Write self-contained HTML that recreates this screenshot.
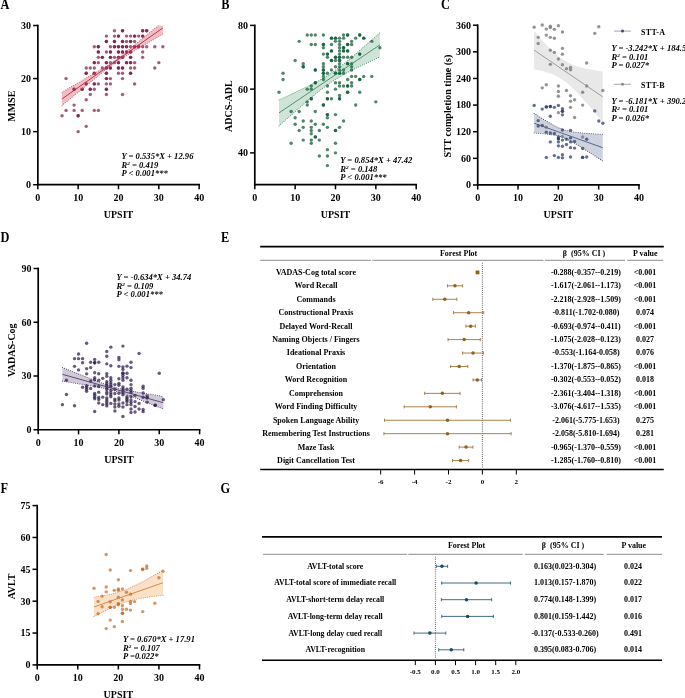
<!DOCTYPE html>
<html><head><meta charset="utf-8"><style>html,body{margin:0;padding:0;background:#fff;width:685px;height:698px;overflow:hidden;}svg{display:block;will-change:transform;}</style></head><body>
<svg width="685" height="698" viewBox="0 0 685 698" font-family='"Liberation Serif", serif'>
<rect width="685" height="698" fill="#fff"/>
<text x="0" y="0" transform="translate(0.4,9.1) scale(0.9,1)" font-size="13.7" font-weight="bold" fill="#000">A</text>
<text x="0" y="0" transform="translate(221.2,9.0) scale(0.9,1)" font-size="13.7" font-weight="bold" fill="#000">B</text>
<text x="0" y="0" transform="translate(441.0,9.0) scale(0.9,1)" font-size="13.7" font-weight="bold" fill="#000">C</text>
<text x="0" y="0" transform="translate(0.5,242.2) scale(0.9,1)" font-size="13.7" font-weight="bold" fill="#000">D</text>
<text x="0" y="0" transform="translate(221.1,242.2) scale(0.9,1)" font-size="13.7" font-weight="bold" fill="#000">E</text>
<text x="0" y="0" transform="translate(0.4,492.6) scale(0.9,1)" font-size="13.7" font-weight="bold" fill="#000">F</text>
<text x="0" y="0" transform="translate(220.5,492.6) scale(0.9,1)" font-size="13.7" font-weight="bold" fill="#000">G</text>
<g fill="#780f3c" fill-opacity="0.68"><circle cx="114.45" cy="30.82" r="1.7"/><circle cx="122.52" cy="30.82" r="1.7"/><circle cx="122.52" cy="30.82" r="1.7"/><circle cx="142.68" cy="30.82" r="1.7"/><circle cx="142.68" cy="30.82" r="1.7"/><circle cx="146.71" cy="30.82" r="1.7"/><circle cx="146.71" cy="30.82" r="1.7"/><circle cx="106.39" cy="36.12" r="1.7"/><circle cx="114.45" cy="36.12" r="1.7"/><circle cx="118.48" cy="36.12" r="1.7"/><circle cx="118.48" cy="36.12" r="1.7"/><circle cx="126.55" cy="36.12" r="1.7"/><circle cx="130.58" cy="36.12" r="1.7"/><circle cx="134.62" cy="36.12" r="1.7"/><circle cx="134.62" cy="36.12" r="1.7"/><circle cx="138.65" cy="36.12" r="1.7"/><circle cx="142.68" cy="36.12" r="1.7"/><circle cx="142.68" cy="36.12" r="1.7"/><circle cx="106.39" cy="41.43" r="1.7"/><circle cx="106.39" cy="41.43" r="1.7"/><circle cx="114.45" cy="41.43" r="1.7"/><circle cx="114.45" cy="41.43" r="1.7"/><circle cx="122.52" cy="41.43" r="1.7"/><circle cx="122.52" cy="41.43" r="1.7"/><circle cx="126.55" cy="41.43" r="1.7"/><circle cx="130.58" cy="41.43" r="1.7"/><circle cx="130.58" cy="41.43" r="1.7"/><circle cx="134.62" cy="41.43" r="1.7"/><circle cx="94.29" cy="46.74" r="1.7"/><circle cx="98.32" cy="46.74" r="1.7"/><circle cx="98.32" cy="46.74" r="1.7"/><circle cx="110.42" cy="46.74" r="1.7"/><circle cx="114.45" cy="46.74" r="1.7"/><circle cx="114.45" cy="46.74" r="1.7"/><circle cx="118.48" cy="46.74" r="1.7"/><circle cx="118.48" cy="46.74" r="1.7"/><circle cx="122.52" cy="46.74" r="1.7"/><circle cx="122.52" cy="46.74" r="1.7"/><circle cx="126.55" cy="46.74" r="1.7"/><circle cx="126.55" cy="46.74" r="1.7"/><circle cx="130.58" cy="46.74" r="1.7"/><circle cx="134.62" cy="46.74" r="1.7"/><circle cx="134.62" cy="46.74" r="1.7"/><circle cx="138.65" cy="46.74" r="1.7"/><circle cx="138.65" cy="46.74" r="1.7"/><circle cx="142.68" cy="46.74" r="1.7"/><circle cx="146.71" cy="46.74" r="1.7"/><circle cx="154.78" cy="46.74" r="1.7"/><circle cx="162.85" cy="46.74" r="1.7"/><circle cx="98.32" cy="52.04" r="1.7"/><circle cx="98.32" cy="52.04" r="1.7"/><circle cx="106.39" cy="52.04" r="1.7"/><circle cx="110.42" cy="52.04" r="1.7"/><circle cx="110.42" cy="52.04" r="1.7"/><circle cx="118.48" cy="52.04" r="1.7"/><circle cx="118.48" cy="52.04" r="1.7"/><circle cx="122.52" cy="52.04" r="1.7"/><circle cx="122.52" cy="52.04" r="1.7"/><circle cx="126.55" cy="52.04" r="1.7"/><circle cx="126.55" cy="52.04" r="1.7"/><circle cx="130.58" cy="52.04" r="1.7"/><circle cx="130.58" cy="52.04" r="1.7"/><circle cx="142.68" cy="52.04" r="1.7"/><circle cx="98.32" cy="57.35" r="1.7"/><circle cx="102.35" cy="57.35" r="1.7"/><circle cx="102.35" cy="57.35" r="1.7"/><circle cx="110.42" cy="57.35" r="1.7"/><circle cx="110.42" cy="57.35" r="1.7"/><circle cx="114.45" cy="57.35" r="1.7"/><circle cx="118.48" cy="57.35" r="1.7"/><circle cx="118.48" cy="57.35" r="1.7"/><circle cx="122.52" cy="57.35" r="1.7"/><circle cx="122.52" cy="57.35" r="1.7"/><circle cx="130.58" cy="57.35" r="1.7"/><circle cx="130.58" cy="57.35" r="1.7"/><circle cx="142.68" cy="57.35" r="1.7"/><circle cx="94.29" cy="62.66" r="1.7"/><circle cx="94.29" cy="62.66" r="1.7"/><circle cx="98.32" cy="62.66" r="1.7"/><circle cx="106.39" cy="62.66" r="1.7"/><circle cx="106.39" cy="62.66" r="1.7"/><circle cx="110.42" cy="62.66" r="1.7"/><circle cx="114.45" cy="62.66" r="1.7"/><circle cx="118.48" cy="62.66" r="1.7"/><circle cx="118.48" cy="62.66" r="1.7"/><circle cx="126.55" cy="62.66" r="1.7"/><circle cx="126.55" cy="62.66" r="1.7"/><circle cx="130.58" cy="62.66" r="1.7"/><circle cx="130.58" cy="62.66" r="1.7"/><circle cx="134.62" cy="62.66" r="1.7"/><circle cx="158.81" cy="62.66" r="1.7"/><circle cx="86.22" cy="67.97" r="1.7"/><circle cx="90.26" cy="67.97" r="1.7"/><circle cx="94.29" cy="67.97" r="1.7"/><circle cx="102.35" cy="67.97" r="1.7"/><circle cx="106.39" cy="67.97" r="1.7"/><circle cx="106.39" cy="67.97" r="1.7"/><circle cx="110.42" cy="67.97" r="1.7"/><circle cx="110.42" cy="67.97" r="1.7"/><circle cx="118.48" cy="67.97" r="1.7"/><circle cx="118.48" cy="67.97" r="1.7"/><circle cx="122.52" cy="67.97" r="1.7"/><circle cx="122.52" cy="67.97" r="1.7"/><circle cx="130.58" cy="67.97" r="1.7"/><circle cx="134.62" cy="67.97" r="1.7"/><circle cx="154.78" cy="67.97" r="1.7"/><circle cx="86.22" cy="73.27" r="1.7"/><circle cx="86.22" cy="73.27" r="1.7"/><circle cx="94.29" cy="73.27" r="1.7"/><circle cx="94.29" cy="73.27" r="1.7"/><circle cx="106.39" cy="73.27" r="1.7"/><circle cx="106.39" cy="73.27" r="1.7"/><circle cx="118.48" cy="73.27" r="1.7"/><circle cx="122.52" cy="73.27" r="1.7"/><circle cx="130.58" cy="73.27" r="1.7"/><circle cx="130.58" cy="73.27" r="1.7"/><circle cx="66.06" cy="78.58" r="1.7"/><circle cx="106.39" cy="78.58" r="1.7"/><circle cx="106.39" cy="78.58" r="1.7"/><circle cx="110.42" cy="78.58" r="1.7"/><circle cx="122.52" cy="78.58" r="1.7"/><circle cx="86.22" cy="83.89" r="1.7"/><circle cx="86.22" cy="83.89" r="1.7"/><circle cx="94.29" cy="83.89" r="1.7"/><circle cx="94.29" cy="83.89" r="1.7"/><circle cx="98.32" cy="83.89" r="1.7"/><circle cx="106.39" cy="83.89" r="1.7"/><circle cx="110.42" cy="83.89" r="1.7"/><circle cx="134.62" cy="83.89" r="1.7"/><circle cx="74.12" cy="89.19" r="1.7"/><circle cx="74.12" cy="89.19" r="1.7"/><circle cx="82.19" cy="89.19" r="1.7"/><circle cx="82.19" cy="89.19" r="1.7"/><circle cx="90.26" cy="89.19" r="1.7"/><circle cx="90.26" cy="89.19" r="1.7"/><circle cx="94.29" cy="89.19" r="1.7"/><circle cx="106.39" cy="89.19" r="1.7"/><circle cx="106.39" cy="89.19" r="1.7"/><circle cx="90.26" cy="94.50" r="1.7"/><circle cx="106.39" cy="94.50" r="1.7"/><circle cx="122.52" cy="94.50" r="1.7"/><circle cx="86.22" cy="99.81" r="1.7"/><circle cx="74.12" cy="105.11" r="1.7"/><circle cx="66.06" cy="110.42" r="1.7"/><circle cx="74.12" cy="110.42" r="1.7"/><circle cx="82.19" cy="110.42" r="1.7"/><circle cx="94.29" cy="110.42" r="1.7"/><circle cx="98.32" cy="110.42" r="1.7"/><circle cx="62.03" cy="115.73" r="1.7"/><circle cx="78.16" cy="115.73" r="1.7"/><circle cx="78.16" cy="115.73" r="1.7"/><circle cx="86.22" cy="126.34" r="1.7"/><circle cx="78.16" cy="131.65" r="1.7"/></g>
<defs><clipPath id="clipA"><rect x="30" y="25.51" width="200" height="170"/></clipPath></defs>
<g clip-path="url(#clipA)">
<polygon points="62.03,92.22 64.55,90.75 67.07,89.29 69.59,87.82 72.11,86.35 74.63,84.88 77.15,83.41 79.67,81.94 82.19,80.46 84.71,78.99 87.23,77.51 89.75,76.03 92.27,74.54 94.79,73.04 97.31,71.54 99.83,70.03 102.35,68.50 104.87,66.95 107.39,65.37 109.92,63.75 112.44,62.06 114.96,60.31 117.48,58.49 120.00,56.59 122.52,54.65 125.04,52.67 127.56,50.66 130.08,48.63 132.60,46.59 135.12,44.54 137.64,42.48 140.16,40.42 142.68,38.35 145.20,36.28 147.72,34.21 150.24,32.13 152.76,30.05 155.28,27.97 157.80,25.89 160.32,23.81 162.85,21.73 162.85,34.12 160.32,35.59 157.80,37.05 155.28,38.52 152.76,39.99 150.24,41.46 147.72,42.94 145.20,44.41 142.68,45.89 140.16,47.37 137.64,48.86 135.12,50.35 132.60,51.85 130.08,53.36 127.56,54.88 125.04,56.42 122.52,57.98 120.00,59.59 117.48,61.25 114.96,62.97 112.44,64.77 109.92,66.63 107.39,68.56 104.87,70.53 102.35,72.53 99.83,74.55 97.31,76.58 94.79,78.63 92.27,80.69 89.75,82.75 87.23,84.81 84.71,86.88 82.19,88.96 79.67,91.03 77.15,93.11 74.63,95.19 72.11,97.27 69.59,99.35 67.07,101.43 64.55,103.51 62.03,105.59" fill="#e54054" fill-opacity="0.35" stroke="none"/>
<polyline points="62.03,92.22 64.55,90.75 67.07,89.29 69.59,87.82 72.11,86.35 74.63,84.88 77.15,83.41 79.67,81.94 82.19,80.46 84.71,78.99 87.23,77.51 89.75,76.03 92.27,74.54 94.79,73.04 97.31,71.54 99.83,70.03 102.35,68.50 104.87,66.95 107.39,65.37 109.92,63.75 112.44,62.06 114.96,60.31 117.48,58.49 120.00,56.59 122.52,54.65 125.04,52.67 127.56,50.66 130.08,48.63 132.60,46.59 135.12,44.54 137.64,42.48 140.16,40.42 142.68,38.35 145.20,36.28 147.72,34.21 150.24,32.13 152.76,30.05 155.28,27.97 157.80,25.89 160.32,23.81 162.85,21.73" fill="none" stroke="#c85a6c" stroke-width="1.05" stroke-dasharray="0.01 2.2" stroke-linecap="round"/>
<polyline points="62.03,105.59 64.55,103.51 67.07,101.43 69.59,99.35 72.11,97.27 74.63,95.19 77.15,93.11 79.67,91.03 82.19,88.96 84.71,86.88 87.23,84.81 89.75,82.75 92.27,80.69 94.79,78.63 97.31,76.58 99.83,74.55 102.35,72.53 104.87,70.53 107.39,68.56 109.92,66.63 112.44,64.77 114.96,62.97 117.48,61.25 120.00,59.59 122.52,57.98 125.04,56.42 127.56,54.88 130.08,53.36 132.60,51.85 135.12,50.35 137.64,48.86 140.16,47.37 142.68,45.89 145.20,44.41 147.72,42.94 150.24,41.46 152.76,39.99 155.28,38.52 157.80,37.05 160.32,35.59 162.85,34.12" fill="none" stroke="#c85a6c" stroke-width="1.05" stroke-dasharray="0.01 2.2" stroke-linecap="round"/>
</g>
<line x1="62.03" y1="98.91" x2="162.85" y2="27.92" stroke="#9a3350" stroke-width="0.9"/>
<line x1="37.83" y1="24.66" x2="37.83" y2="185.57" stroke="#000" stroke-width="1.7"/>
<line x1="33.13" y1="184.72" x2="37.83" y2="184.72" stroke="#000" stroke-width="1.5"/>
<text x="31.03" y="188.12" font-size="10" text-anchor="end" font-weight="bold" fill="#000">0</text>
<line x1="33.13" y1="131.65" x2="37.83" y2="131.65" stroke="#000" stroke-width="1.5"/>
<text x="31.03" y="135.05" font-size="10" text-anchor="end" font-weight="bold" fill="#000">10</text>
<line x1="33.13" y1="78.58" x2="37.83" y2="78.58" stroke="#000" stroke-width="1.5"/>
<text x="31.03" y="81.98" font-size="10" text-anchor="end" font-weight="bold" fill="#000">20</text>
<line x1="33.13" y1="25.51" x2="37.83" y2="25.51" stroke="#000" stroke-width="1.5"/>
<text x="31.03" y="28.91" font-size="10" text-anchor="end" font-weight="bold" fill="#000">30</text>
<line x1="36.98" y1="184.72" x2="199.99" y2="184.72" stroke="#000" stroke-width="1.7"/>
<line x1="37.83" y1="184.72" x2="37.83" y2="189.32" stroke="#000" stroke-width="1.5"/>
<text x="37.83" y="200.82" font-size="10" text-anchor="middle" font-weight="bold" fill="#000">0</text>
<line x1="78.16" y1="184.72" x2="78.16" y2="189.32" stroke="#000" stroke-width="1.5"/>
<text x="78.16" y="200.82" font-size="10" text-anchor="middle" font-weight="bold" fill="#000">10</text>
<line x1="118.48" y1="184.72" x2="118.48" y2="189.32" stroke="#000" stroke-width="1.5"/>
<text x="118.48" y="200.82" font-size="10" text-anchor="middle" font-weight="bold" fill="#000">20</text>
<line x1="158.81" y1="184.72" x2="158.81" y2="189.32" stroke="#000" stroke-width="1.5"/>
<text x="158.81" y="200.82" font-size="10" text-anchor="middle" font-weight="bold" fill="#000">30</text>
<line x1="199.14" y1="184.72" x2="199.14" y2="189.32" stroke="#000" stroke-width="1.5"/>
<text x="199.14" y="200.82" font-size="10" text-anchor="middle" font-weight="bold" fill="#000">40</text>
<text x="118.48" y="217.72" font-size="10" text-anchor="middle" font-weight="bold" fill="#000">UPSIT</text>
<text transform="translate(14.90,106.21) rotate(-90)" x="0" y="0" font-size="10" text-anchor="middle" font-weight="bold" fill="#000">MMSE</text>
<text x="0" y="0" transform="translate(121.50,158.90) scale(1.075,0.94)" font-size="8" font-weight="bold" font-style="italic" fill="#000">Y = 0.535*X + 12.96</text>
<text x="0" y="0" transform="translate(121.50,167.50) scale(1.075,0.94)" font-size="8" font-weight="bold" font-style="italic" fill="#000">R<tspan font-size="4.96" dy="-3">2</tspan><tspan dy="3"> = 0.419</tspan></text>
<text x="0" y="0" transform="translate(121.50,176.10) scale(1.075,0.94)" font-size="8" font-weight="bold" font-style="italic" fill="#000">P &lt; 0.001***</text>
<polygon points="279.01,99.88 281.53,98.73 284.05,97.57 286.58,96.41 289.10,95.25 291.62,94.08 294.14,92.91 296.66,91.73 299.19,90.54 301.71,89.34 304.23,88.12 306.75,86.89 309.27,85.65 311.79,84.38 314.32,83.09 316.84,81.76 319.36,80.40 321.88,78.98 324.40,77.52 326.93,75.99 329.45,74.39 331.97,72.71 334.49,70.95 337.01,69.12 339.53,67.23 342.06,65.27 344.58,63.26 347.10,61.21 349.62,59.12 352.14,57.00 354.67,54.86 357.19,52.69 359.71,50.51 362.23,48.32 364.75,46.11 367.28,43.90 369.80,41.68 372.32,39.45 374.84,37.21 377.36,34.97 379.88,32.73 379.88,56.99 377.36,58.14 374.84,59.30 372.32,60.47 369.80,61.64 367.28,62.82 364.75,64.01 362.23,65.20 359.71,66.41 357.19,67.63 354.67,68.87 352.14,70.13 349.62,71.41 347.10,72.72 344.58,74.07 342.06,75.47 339.53,76.91 337.01,78.41 334.49,79.99 331.97,81.63 329.45,83.36 326.93,85.16 324.40,87.03 321.88,88.96 319.36,90.95 316.84,92.99 314.32,95.06 311.79,97.17 309.27,99.31 306.75,101.46 304.23,103.63 301.71,105.82 299.19,108.02 296.66,110.23 294.14,112.45 291.62,114.68 289.10,116.91 286.58,119.15 284.05,121.40 281.53,123.64 279.01,125.89" fill="#cfe3d6" fill-opacity="1.0" stroke="none"/>
<polyline points="279.01,99.88 281.53,98.73 284.05,97.57 286.58,96.41 289.10,95.25 291.62,94.08 294.14,92.91 296.66,91.73 299.19,90.54 301.71,89.34 304.23,88.12 306.75,86.89 309.27,85.65 311.79,84.38 314.32,83.09 316.84,81.76 319.36,80.40 321.88,78.98 324.40,77.52 326.93,75.99 329.45,74.39 331.97,72.71 334.49,70.95 337.01,69.12 339.53,67.23 342.06,65.27 344.58,63.26 347.10,61.21 349.62,59.12 352.14,57.00 354.67,54.86 357.19,52.69 359.71,50.51 362.23,48.32 364.75,46.11 367.28,43.90 369.80,41.68 372.32,39.45 374.84,37.21 377.36,34.97 379.88,32.73" fill="none" stroke="#4f9070" stroke-width="1.05" stroke-dasharray="0.01 2.2" stroke-linecap="round"/>
<polyline points="279.01,125.89 281.53,123.64 284.05,121.40 286.58,119.15 289.10,116.91 291.62,114.68 294.14,112.45 296.66,110.23 299.19,108.02 301.71,105.82 304.23,103.63 306.75,101.46 309.27,99.31 311.79,97.17 314.32,95.06 316.84,92.99 319.36,90.95 321.88,88.96 324.40,87.03 326.93,85.16 329.45,83.36 331.97,81.63 334.49,79.99 337.01,78.41 339.53,76.91 342.06,75.47 344.58,74.07 347.10,72.72 349.62,71.41 352.14,70.13 354.67,68.87 357.19,67.63 359.71,66.41 362.23,65.20 364.75,64.01 367.28,62.82 369.80,61.64 372.32,60.47 374.84,59.30 377.36,58.14 379.88,56.99" fill="none" stroke="#4f9070" stroke-width="1.05" stroke-dasharray="0.01 2.2" stroke-linecap="round"/>
<g fill="#0a5a32" fill-opacity="0.72"><circle cx="279.01" cy="92.31" r="1.7"/><circle cx="283.05" cy="73.20" r="1.7"/><circle cx="283.05" cy="79.57" r="1.7"/><circle cx="291.12" cy="111.43" r="1.7"/><circle cx="291.12" cy="143.30" r="1.7"/><circle cx="295.15" cy="60.45" r="1.7"/><circle cx="295.15" cy="117.81" r="1.7"/><circle cx="295.15" cy="124.18" r="1.7"/><circle cx="299.19" cy="41.33" r="1.7"/><circle cx="299.19" cy="111.43" r="1.7"/><circle cx="299.19" cy="130.55" r="1.7"/><circle cx="303.22" cy="63.64" r="1.7"/><circle cx="303.22" cy="66.82" r="1.7"/><circle cx="303.22" cy="66.82" r="1.7"/><circle cx="303.22" cy="120.99" r="1.7"/><circle cx="303.22" cy="127.36" r="1.7"/><circle cx="303.22" cy="140.11" r="1.7"/><circle cx="307.25" cy="34.96" r="1.7"/><circle cx="307.25" cy="89.13" r="1.7"/><circle cx="307.25" cy="101.87" r="1.7"/><circle cx="307.25" cy="105.06" r="1.7"/><circle cx="311.29" cy="34.96" r="1.7"/><circle cx="311.29" cy="44.52" r="1.7"/><circle cx="311.29" cy="85.94" r="1.7"/><circle cx="311.29" cy="89.13" r="1.7"/><circle cx="311.29" cy="98.69" r="1.7"/><circle cx="311.29" cy="98.69" r="1.7"/><circle cx="311.29" cy="120.99" r="1.7"/><circle cx="311.29" cy="127.36" r="1.7"/><circle cx="311.29" cy="130.55" r="1.7"/><circle cx="311.29" cy="133.74" r="1.7"/><circle cx="311.29" cy="140.11" r="1.7"/><circle cx="311.29" cy="143.30" r="1.7"/><circle cx="315.32" cy="34.96" r="1.7"/><circle cx="315.32" cy="44.52" r="1.7"/><circle cx="315.32" cy="70.01" r="1.7"/><circle cx="315.32" cy="70.01" r="1.7"/><circle cx="315.32" cy="82.76" r="1.7"/><circle cx="315.32" cy="82.76" r="1.7"/><circle cx="315.32" cy="111.43" r="1.7"/><circle cx="315.32" cy="124.18" r="1.7"/><circle cx="315.32" cy="136.92" r="1.7"/><circle cx="315.32" cy="136.92" r="1.7"/><circle cx="319.36" cy="130.55" r="1.7"/><circle cx="319.36" cy="140.11" r="1.7"/><circle cx="319.36" cy="156.04" r="1.7"/><circle cx="323.39" cy="34.96" r="1.7"/><circle cx="323.39" cy="44.52" r="1.7"/><circle cx="323.39" cy="44.52" r="1.7"/><circle cx="323.39" cy="47.70" r="1.7"/><circle cx="323.39" cy="54.08" r="1.7"/><circle cx="323.39" cy="63.64" r="1.7"/><circle cx="323.39" cy="66.82" r="1.7"/><circle cx="323.39" cy="70.01" r="1.7"/><circle cx="323.39" cy="70.01" r="1.7"/><circle cx="323.39" cy="73.20" r="1.7"/><circle cx="323.39" cy="73.20" r="1.7"/><circle cx="323.39" cy="76.38" r="1.7"/><circle cx="323.39" cy="79.57" r="1.7"/><circle cx="323.39" cy="105.06" r="1.7"/><circle cx="323.39" cy="105.06" r="1.7"/><circle cx="323.39" cy="124.18" r="1.7"/><circle cx="327.43" cy="54.08" r="1.7"/><circle cx="327.43" cy="54.08" r="1.7"/><circle cx="327.43" cy="57.26" r="1.7"/><circle cx="327.43" cy="73.20" r="1.7"/><circle cx="327.43" cy="85.94" r="1.7"/><circle cx="327.43" cy="92.31" r="1.7"/><circle cx="327.43" cy="98.69" r="1.7"/><circle cx="327.43" cy="98.69" r="1.7"/><circle cx="327.43" cy="114.62" r="1.7"/><circle cx="327.43" cy="114.62" r="1.7"/><circle cx="327.43" cy="117.81" r="1.7"/><circle cx="327.43" cy="127.36" r="1.7"/><circle cx="327.43" cy="149.67" r="1.7"/><circle cx="327.43" cy="156.04" r="1.7"/><circle cx="327.43" cy="165.60" r="1.7"/><circle cx="331.47" cy="38.15" r="1.7"/><circle cx="331.47" cy="38.15" r="1.7"/><circle cx="331.47" cy="44.52" r="1.7"/><circle cx="331.47" cy="50.89" r="1.7"/><circle cx="331.47" cy="50.89" r="1.7"/><circle cx="331.47" cy="60.45" r="1.7"/><circle cx="331.47" cy="60.45" r="1.7"/><circle cx="331.47" cy="70.01" r="1.7"/><circle cx="331.47" cy="98.69" r="1.7"/><circle cx="335.50" cy="38.15" r="1.7"/><circle cx="335.50" cy="38.15" r="1.7"/><circle cx="335.50" cy="41.33" r="1.7"/><circle cx="335.50" cy="57.26" r="1.7"/><circle cx="335.50" cy="57.26" r="1.7"/><circle cx="335.50" cy="60.45" r="1.7"/><circle cx="335.50" cy="66.82" r="1.7"/><circle cx="335.50" cy="73.20" r="1.7"/><circle cx="335.50" cy="73.20" r="1.7"/><circle cx="335.50" cy="82.76" r="1.7"/><circle cx="335.50" cy="89.13" r="1.7"/><circle cx="335.50" cy="114.62" r="1.7"/><circle cx="335.50" cy="130.55" r="1.7"/><circle cx="335.50" cy="130.55" r="1.7"/><circle cx="335.50" cy="143.30" r="1.7"/><circle cx="335.50" cy="152.86" r="1.7"/><circle cx="339.53" cy="38.15" r="1.7"/><circle cx="339.53" cy="41.33" r="1.7"/><circle cx="339.53" cy="44.52" r="1.7"/><circle cx="339.53" cy="47.70" r="1.7"/><circle cx="339.53" cy="50.89" r="1.7"/><circle cx="339.53" cy="54.08" r="1.7"/><circle cx="339.53" cy="57.26" r="1.7"/><circle cx="339.53" cy="57.26" r="1.7"/><circle cx="339.53" cy="60.45" r="1.7"/><circle cx="339.53" cy="60.45" r="1.7"/><circle cx="339.53" cy="63.64" r="1.7"/><circle cx="339.53" cy="66.82" r="1.7"/><circle cx="339.53" cy="70.01" r="1.7"/><circle cx="339.53" cy="73.20" r="1.7"/><circle cx="339.53" cy="73.20" r="1.7"/><circle cx="339.53" cy="82.76" r="1.7"/><circle cx="339.53" cy="85.94" r="1.7"/><circle cx="339.53" cy="95.50" r="1.7"/><circle cx="339.53" cy="98.69" r="1.7"/><circle cx="339.53" cy="98.69" r="1.7"/><circle cx="339.53" cy="127.36" r="1.7"/><circle cx="343.57" cy="34.96" r="1.7"/><circle cx="343.57" cy="38.15" r="1.7"/><circle cx="343.57" cy="47.70" r="1.7"/><circle cx="343.57" cy="47.70" r="1.7"/><circle cx="343.57" cy="50.89" r="1.7"/><circle cx="343.57" cy="50.89" r="1.7"/><circle cx="343.57" cy="57.26" r="1.7"/><circle cx="343.57" cy="70.01" r="1.7"/><circle cx="343.57" cy="73.20" r="1.7"/><circle cx="343.57" cy="85.94" r="1.7"/><circle cx="343.57" cy="120.99" r="1.7"/><circle cx="347.61" cy="34.96" r="1.7"/><circle cx="347.61" cy="34.96" r="1.7"/><circle cx="347.61" cy="44.52" r="1.7"/><circle cx="347.61" cy="44.52" r="1.7"/><circle cx="347.61" cy="50.89" r="1.7"/><circle cx="347.61" cy="50.89" r="1.7"/><circle cx="347.61" cy="57.26" r="1.7"/><circle cx="347.61" cy="63.64" r="1.7"/><circle cx="347.61" cy="63.64" r="1.7"/><circle cx="347.61" cy="79.57" r="1.7"/><circle cx="347.61" cy="85.94" r="1.7"/><circle cx="347.61" cy="85.94" r="1.7"/><circle cx="347.61" cy="92.31" r="1.7"/><circle cx="347.61" cy="92.31" r="1.7"/><circle cx="351.64" cy="41.33" r="1.7"/><circle cx="351.64" cy="44.52" r="1.7"/><circle cx="351.64" cy="57.26" r="1.7"/><circle cx="351.64" cy="63.64" r="1.7"/><circle cx="351.64" cy="66.82" r="1.7"/><circle cx="351.64" cy="70.01" r="1.7"/><circle cx="351.64" cy="76.38" r="1.7"/><circle cx="351.64" cy="82.76" r="1.7"/><circle cx="351.64" cy="85.94" r="1.7"/><circle cx="355.68" cy="38.15" r="1.7"/><circle cx="355.68" cy="76.38" r="1.7"/><circle cx="355.68" cy="105.06" r="1.7"/><circle cx="359.71" cy="34.96" r="1.7"/><circle cx="359.71" cy="34.96" r="1.7"/><circle cx="359.71" cy="54.08" r="1.7"/><circle cx="359.71" cy="54.08" r="1.7"/><circle cx="359.71" cy="79.57" r="1.7"/><circle cx="359.71" cy="79.57" r="1.7"/><circle cx="359.71" cy="92.31" r="1.7"/><circle cx="363.75" cy="38.15" r="1.7"/><circle cx="363.75" cy="38.15" r="1.7"/><circle cx="363.75" cy="76.38" r="1.7"/><circle cx="371.81" cy="41.33" r="1.7"/><circle cx="371.81" cy="76.38" r="1.7"/><circle cx="375.85" cy="101.87" r="1.7"/><circle cx="379.88" cy="47.70" r="1.7"/></g>
<line x1="279.01" y1="112.89" x2="379.88" y2="44.86" stroke="#3f8a63" stroke-width="0.9"/>
<line x1="254.80" y1="24.55" x2="254.80" y2="185.57" stroke="#000" stroke-width="1.7"/>
<line x1="250.10" y1="152.86" x2="254.80" y2="152.86" stroke="#000" stroke-width="1.5"/>
<text x="248.00" y="156.26" font-size="10" text-anchor="end" font-weight="bold" fill="#000">40</text>
<line x1="250.10" y1="89.13" x2="254.80" y2="89.13" stroke="#000" stroke-width="1.5"/>
<text x="248.00" y="92.53" font-size="10" text-anchor="end" font-weight="bold" fill="#000">60</text>
<line x1="250.10" y1="25.40" x2="254.80" y2="25.40" stroke="#000" stroke-width="1.5"/>
<text x="248.00" y="28.80" font-size="10" text-anchor="end" font-weight="bold" fill="#000">80</text>
<line x1="253.95" y1="184.72" x2="417.05" y2="184.72" stroke="#000" stroke-width="1.7"/>
<line x1="254.80" y1="184.72" x2="254.80" y2="189.32" stroke="#000" stroke-width="1.5"/>
<text x="254.80" y="200.82" font-size="10" text-anchor="middle" font-weight="bold" fill="#000">0</text>
<line x1="295.15" y1="184.72" x2="295.15" y2="189.32" stroke="#000" stroke-width="1.5"/>
<text x="295.15" y="200.82" font-size="10" text-anchor="middle" font-weight="bold" fill="#000">10</text>
<line x1="335.50" y1="184.72" x2="335.50" y2="189.32" stroke="#000" stroke-width="1.5"/>
<text x="335.50" y="200.82" font-size="10" text-anchor="middle" font-weight="bold" fill="#000">20</text>
<line x1="375.85" y1="184.72" x2="375.85" y2="189.32" stroke="#000" stroke-width="1.5"/>
<text x="375.85" y="200.82" font-size="10" text-anchor="middle" font-weight="bold" fill="#000">30</text>
<line x1="416.20" y1="184.72" x2="416.20" y2="189.32" stroke="#000" stroke-width="1.5"/>
<text x="416.20" y="200.82" font-size="10" text-anchor="middle" font-weight="bold" fill="#000">40</text>
<text x="335.50" y="217.72" font-size="10" text-anchor="middle" font-weight="bold" fill="#000">UPSIT</text>
<text transform="translate(232.10,106.16) rotate(-90)" x="0" y="0" font-size="10" text-anchor="middle" font-weight="bold" fill="#000">ADCS-ADL</text>
<text x="0" y="0" transform="translate(340.30,162.90) scale(1.075,0.94)" font-size="8" font-weight="bold" font-style="italic" fill="#000">Y = 0.854*X + 47.42</text>
<text x="0" y="0" transform="translate(340.30,171.50) scale(1.075,0.94)" font-size="8" font-weight="bold" font-style="italic" fill="#000">R<tspan font-size="4.96" dy="-3">2</tspan><tspan dy="3"> = 0.148</tspan></text>
<text x="0" y="0" transform="translate(340.30,180.10) scale(1.075,0.94)" font-size="8" font-weight="bold" font-style="italic" fill="#000">P &lt; 0.001***</text>
<polygon points="534.15,31.12 535.87,33.10 537.58,35.07 539.30,37.02 541.01,38.95 542.72,40.86 544.44,42.73 546.15,44.57 547.87,46.38 549.58,48.14 551.29,49.85 553.01,51.50 554.72,53.09 556.43,54.60 558.15,56.03 559.86,57.38 561.58,58.64 563.29,59.80 565.00,60.87 566.72,61.85 568.43,62.74 570.15,63.56 571.86,64.30 573.57,64.97 575.29,65.59 577.00,66.16 578.71,66.69 580.43,67.17 582.14,67.63 583.86,68.05 585.57,68.46 587.28,68.84 589.00,69.20 590.71,69.54 592.42,69.87 594.14,70.19 595.85,70.50 597.57,70.80 599.28,71.09 600.99,71.37 602.71,71.64 602.71,122.03 600.99,119.97 599.28,117.92 597.57,115.88 595.85,113.84 594.14,111.82 592.42,109.81 590.71,107.81 589.00,105.82 587.28,103.85 585.57,101.90 583.86,99.97 582.14,98.06 580.43,96.19 578.71,94.34 577.00,92.53 575.29,90.77 573.57,89.06 571.86,87.40 570.15,85.81 568.43,84.29 566.72,82.86 565.00,81.50 563.29,80.24 561.58,79.07 559.86,78.00 558.15,77.01 556.43,76.12 554.72,75.30 553.01,74.55 551.29,73.87 549.58,73.25 547.87,72.68 546.15,72.15 544.44,71.66 542.72,71.21 541.01,70.78 539.30,70.37 537.58,69.99 535.87,69.63 534.15,69.28" fill="#e8e8e8" fill-opacity="1.0" stroke="none"/>
<polygon points="534.15,113.46 535.87,114.56 537.58,115.66 539.30,116.75 541.01,117.83 542.72,118.91 544.44,119.97 546.15,121.01 547.87,122.04 549.58,123.05 551.29,124.03 553.01,124.99 554.72,125.90 556.43,126.77 558.15,127.58 559.86,128.33 561.58,129.01 563.29,129.62 565.00,130.16 566.72,130.63 568.43,131.03 570.15,131.39 571.86,131.69 573.57,131.96 575.29,132.20 577.00,132.41 578.71,132.61 580.43,132.78 582.14,132.94 583.86,133.09 585.57,133.23 587.28,133.37 589.00,133.49 590.71,133.61 592.42,133.73 594.14,133.84 595.85,133.94 597.57,134.05 599.28,134.15 600.99,134.25 602.71,134.34 602.71,161.04 600.99,159.91 599.28,158.79 597.57,157.67 595.85,156.55 594.14,155.43 592.42,154.32 590.71,153.21 589.00,152.11 587.28,151.01 585.57,149.92 583.86,148.84 582.14,147.76 580.43,146.70 578.71,145.65 577.00,144.62 575.29,143.61 573.57,142.63 571.86,141.68 570.15,140.76 568.43,139.89 566.72,139.07 565.00,138.32 563.29,137.63 561.58,137.02 559.86,136.48 558.15,136.00 556.43,135.59 554.72,135.24 553.01,134.93 551.29,134.66 549.58,134.42 547.87,134.20 546.15,134.01 544.44,133.83 542.72,133.67 541.01,133.52 539.30,133.38 537.58,133.25 535.87,133.12 534.15,133.00" fill="#cdd2de" fill-opacity="1.0" stroke="none"/>
<polyline points="534.15,113.46 535.87,114.56 537.58,115.66 539.30,116.75 541.01,117.83 542.72,118.91 544.44,119.97 546.15,121.01 547.87,122.04 549.58,123.05 551.29,124.03 553.01,124.99 554.72,125.90 556.43,126.77 558.15,127.58 559.86,128.33 561.58,129.01 563.29,129.62 565.00,130.16 566.72,130.63 568.43,131.03 570.15,131.39 571.86,131.69 573.57,131.96 575.29,132.20 577.00,132.41 578.71,132.61 580.43,132.78 582.14,132.94 583.86,133.09 585.57,133.23 587.28,133.37 589.00,133.49 590.71,133.61 592.42,133.73 594.14,133.84 595.85,133.94 597.57,134.05 599.28,134.15 600.99,134.25 602.71,134.34" fill="none" stroke="#3a4566" stroke-width="1.05" stroke-dasharray="0.01 2.2" stroke-linecap="round"/>
<polyline points="534.15,133.00 535.87,133.12 537.58,133.25 539.30,133.38 541.01,133.52 542.72,133.67 544.44,133.83 546.15,134.01 547.87,134.20 549.58,134.42 551.29,134.66 553.01,134.93 554.72,135.24 556.43,135.59 558.15,136.00 559.86,136.48 561.58,137.02 563.29,137.63 565.00,138.32 566.72,139.07 568.43,139.89 570.15,140.76 571.86,141.68 573.57,142.63 575.29,143.61 577.00,144.62 578.71,145.65 580.43,146.70 582.14,147.76 583.86,148.84 585.57,149.92 587.28,151.01 589.00,152.11 590.71,153.21 592.42,154.32 594.14,155.43 595.85,156.55 597.57,157.67 599.28,158.79 600.99,159.91 602.71,161.04" fill="none" stroke="#3a4566" stroke-width="1.05" stroke-dasharray="0.01 2.2" stroke-linecap="round"/>
<g fill="#7a7a7a" fill-opacity="0.8"><circle cx="534.16" cy="27.15" r="1.7"/><circle cx="542.24" cy="24.93" r="1.7"/><circle cx="546.28" cy="29.10" r="1.7"/><circle cx="550.32" cy="26.26" r="1.7"/><circle cx="550.32" cy="27.59" r="1.7"/><circle cx="554.36" cy="29.36" r="1.7"/><circle cx="558.40" cy="25.82" r="1.7"/><circle cx="562.44" cy="32.02" r="1.7"/><circle cx="598.80" cy="26.71" r="1.7"/><circle cx="594.76" cy="33.35" r="1.7"/><circle cx="538.20" cy="37.34" r="1.7"/><circle cx="546.28" cy="35.12" r="1.7"/><circle cx="550.32" cy="37.34" r="1.7"/><circle cx="554.36" cy="38.22" r="1.7"/><circle cx="538.20" cy="43.54" r="1.7"/><circle cx="562.44" cy="48.41" r="1.7"/><circle cx="562.44" cy="54.17" r="1.7"/><circle cx="550.32" cy="50.19" r="1.7"/><circle cx="554.36" cy="52.40" r="1.7"/><circle cx="558.40" cy="59.05" r="1.7"/><circle cx="550.32" cy="64.36" r="1.7"/><circle cx="562.44" cy="64.80" r="1.7"/><circle cx="566.48" cy="68.79" r="1.7"/><circle cx="570.52" cy="67.46" r="1.7"/><circle cx="570.52" cy="69.68" r="1.7"/><circle cx="586.68" cy="63.03" r="1.7"/><circle cx="586.68" cy="86.07" r="1.7"/><circle cx="602.84" cy="90.50" r="1.7"/><circle cx="582.64" cy="92.27" r="1.7"/><circle cx="546.28" cy="84.74" r="1.7"/><circle cx="542.24" cy="87.84" r="1.7"/><circle cx="558.40" cy="86.07" r="1.7"/><circle cx="558.40" cy="91.38" r="1.7"/><circle cx="558.40" cy="96.26" r="1.7"/><circle cx="566.48" cy="90.50" r="1.7"/><circle cx="570.52" cy="95.81" r="1.7"/><circle cx="574.56" cy="99.80" r="1.7"/><circle cx="570.52" cy="101.13" r="1.7"/><circle cx="582.64" cy="105.12" r="1.7"/><circle cx="570.52" cy="107.33" r="1.7"/><circle cx="558.40" cy="112.65" r="1.7"/><circle cx="574.56" cy="117.52" r="1.7"/><circle cx="546.28" cy="127.27" r="1.7"/><circle cx="562.44" cy="136.57" r="1.7"/><circle cx="582.64" cy="137.01" r="1.7"/></g>
<g fill="#2a3a66" fill-opacity="0.72"><circle cx="534.16" cy="105.56" r="1.7"/><circle cx="542.24" cy="109.10" r="1.7"/><circle cx="546.28" cy="106.89" r="1.7"/><circle cx="546.28" cy="106.89" r="1.7"/><circle cx="550.32" cy="106.45" r="1.7"/><circle cx="550.32" cy="106.45" r="1.7"/><circle cx="554.36" cy="107.33" r="1.7"/><circle cx="558.40" cy="105.56" r="1.7"/><circle cx="562.44" cy="108.66" r="1.7"/><circle cx="562.44" cy="111.32" r="1.7"/><circle cx="562.44" cy="111.32" r="1.7"/><circle cx="562.44" cy="114.86" r="1.7"/><circle cx="550.32" cy="116.19" r="1.7"/><circle cx="538.20" cy="120.62" r="1.7"/><circle cx="538.20" cy="125.94" r="1.7"/><circle cx="542.24" cy="125.50" r="1.7"/><circle cx="546.28" cy="132.14" r="1.7"/><circle cx="550.32" cy="133.03" r="1.7"/><circle cx="554.36" cy="133.47" r="1.7"/><circle cx="562.44" cy="129.93" r="1.7"/><circle cx="570.52" cy="130.37" r="1.7"/><circle cx="558.40" cy="137.01" r="1.7"/><circle cx="558.40" cy="138.79" r="1.7"/><circle cx="558.40" cy="138.79" r="1.7"/><circle cx="558.40" cy="141.89" r="1.7"/><circle cx="562.44" cy="140.11" r="1.7"/><circle cx="566.48" cy="139.23" r="1.7"/><circle cx="570.52" cy="137.90" r="1.7"/><circle cx="570.52" cy="141.89" r="1.7"/><circle cx="574.56" cy="141.44" r="1.7"/><circle cx="586.68" cy="139.23" r="1.7"/><circle cx="550.32" cy="141.89" r="1.7"/><circle cx="558.40" cy="145.87" r="1.7"/><circle cx="562.44" cy="146.32" r="1.7"/><circle cx="566.48" cy="144.54" r="1.7"/><circle cx="570.52" cy="147.65" r="1.7"/><circle cx="574.56" cy="148.09" r="1.7"/><circle cx="582.64" cy="148.53" r="1.7"/><circle cx="546.28" cy="157.39" r="1.7"/><circle cx="554.36" cy="155.62" r="1.7"/><circle cx="558.40" cy="157.39" r="1.7"/><circle cx="562.44" cy="154.73" r="1.7"/><circle cx="562.44" cy="157.83" r="1.7"/><circle cx="570.52" cy="156.95" r="1.7"/><circle cx="582.64" cy="157.39" r="1.7"/><circle cx="582.64" cy="157.39" r="1.7"/><circle cx="586.68" cy="156.95" r="1.7"/><circle cx="594.76" cy="110.88" r="1.7"/><circle cx="598.80" cy="121.07" r="1.7"/><circle cx="602.84" cy="123.28" r="1.7"/></g>
<line x1="534.15" y1="50.20" x2="602.71" y2="96.84" stroke="#8a8a8a" stroke-width="0.8"/>
<line x1="534.15" y1="123.23" x2="602.71" y2="147.69" stroke="#4a5a85" stroke-width="0.9"/>
<line x1="477.70" y1="24.35" x2="477.70" y2="185.82" stroke="#000" stroke-width="1.7"/>
<line x1="473.00" y1="184.97" x2="477.70" y2="184.97" stroke="#000" stroke-width="1.5"/>
<text x="470.90" y="188.37" font-size="10" text-anchor="end" font-weight="bold" fill="#000">0</text>
<line x1="473.00" y1="158.34" x2="477.70" y2="158.34" stroke="#000" stroke-width="1.5"/>
<text x="470.90" y="161.74" font-size="10" text-anchor="end" font-weight="bold" fill="#000">60</text>
<line x1="473.00" y1="131.71" x2="477.70" y2="131.71" stroke="#000" stroke-width="1.5"/>
<text x="470.90" y="135.11" font-size="10" text-anchor="end" font-weight="bold" fill="#000">120</text>
<line x1="473.00" y1="105.08" x2="477.70" y2="105.08" stroke="#000" stroke-width="1.5"/>
<text x="470.90" y="108.48" font-size="10" text-anchor="end" font-weight="bold" fill="#000">180</text>
<line x1="473.00" y1="78.46" x2="477.70" y2="78.46" stroke="#000" stroke-width="1.5"/>
<text x="470.90" y="81.86" font-size="10" text-anchor="end" font-weight="bold" fill="#000">240</text>
<line x1="473.00" y1="51.83" x2="477.70" y2="51.83" stroke="#000" stroke-width="1.5"/>
<text x="470.90" y="55.23" font-size="10" text-anchor="end" font-weight="bold" fill="#000">300</text>
<line x1="473.00" y1="25.20" x2="477.70" y2="25.20" stroke="#000" stroke-width="1.5"/>
<text x="470.90" y="28.60" font-size="10" text-anchor="end" font-weight="bold" fill="#000">360</text>
<line x1="476.85" y1="184.97" x2="639.85" y2="184.97" stroke="#000" stroke-width="1.7"/>
<line x1="477.70" y1="184.97" x2="477.70" y2="189.57" stroke="#000" stroke-width="1.5"/>
<text x="477.70" y="201.07" font-size="10" text-anchor="middle" font-weight="bold" fill="#000">0</text>
<line x1="518.02" y1="184.97" x2="518.02" y2="189.57" stroke="#000" stroke-width="1.5"/>
<text x="518.02" y="201.07" font-size="10" text-anchor="middle" font-weight="bold" fill="#000">10</text>
<line x1="558.35" y1="184.97" x2="558.35" y2="189.57" stroke="#000" stroke-width="1.5"/>
<text x="558.35" y="201.07" font-size="10" text-anchor="middle" font-weight="bold" fill="#000">20</text>
<line x1="598.67" y1="184.97" x2="598.67" y2="189.57" stroke="#000" stroke-width="1.5"/>
<text x="598.67" y="201.07" font-size="10" text-anchor="middle" font-weight="bold" fill="#000">30</text>
<line x1="639.00" y1="184.97" x2="639.00" y2="189.57" stroke="#000" stroke-width="1.5"/>
<text x="639.00" y="201.07" font-size="10" text-anchor="middle" font-weight="bold" fill="#000">40</text>
<text x="558.35" y="217.97" font-size="10" text-anchor="middle" font-weight="bold" fill="#000">UPSIT</text>
<text transform="translate(450.60,106.18) rotate(-90)" x="0" y="0" font-size="10" text-anchor="middle" font-weight="bold" fill="#000">STT completion time (s)</text>
<line x1="614.10" y1="31.10" x2="630.90" y2="31.10" stroke="#a9b1c8" stroke-width="1.2"/>
<circle cx="622.5" cy="31.1" r="1.5" fill="#3c4a73"/>
<text x="641.00" y="34.60" font-size="8" text-anchor="start" font-weight="bold" fill="#000" letter-spacing="0.3">STT-A</text>
<line x1="614.10" y1="84.30" x2="630.90" y2="84.30" stroke="#a8a8a8" stroke-width="1.0"/>
<circle cx="622.5" cy="84.3" r="1.5" fill="#8c8c8c"/>
<text x="641.00" y="87.80" font-size="8" text-anchor="start" font-weight="bold" fill="#000" letter-spacing="0.3">STT-B</text>
<text x="0" y="0" transform="translate(611.40,51.40) scale(1.075,0.94)" font-size="8" font-weight="bold" font-style="italic" fill="#000">Y = -3.242*X + 184.5</text>
<text x="0" y="0" transform="translate(611.40,59.90) scale(1.075,0.94)" font-size="8" font-weight="bold" font-style="italic" fill="#000">R<tspan font-size="4.96" dy="-3">2</tspan><tspan dy="3"> = 0.101</tspan></text>
<text x="0" y="0" transform="translate(611.40,68.40) scale(1.075,0.94)" font-size="8" font-weight="bold" font-style="italic" fill="#000">P = 0.027*</text>
<text x="0" y="0" transform="translate(611.40,103.70) scale(1.075,0.94)" font-size="8" font-weight="bold" font-style="italic" fill="#000">Y = -6.181*X + 390.2</text>
<text x="0" y="0" transform="translate(611.40,112.40) scale(1.075,0.94)" font-size="8" font-weight="bold" font-style="italic" fill="#000">R<tspan font-size="4.96" dy="-3">2</tspan><tspan dy="3"> = 0.101</tspan></text>
<text x="0" y="0" transform="translate(611.40,121.10) scale(1.075,0.94)" font-size="8" font-weight="bold" font-style="italic" fill="#000">P = 0.026*</text>
<polygon points="62.41,367.51 64.93,368.53 67.45,369.54 69.98,370.55 72.50,371.56 75.02,372.57 77.54,373.58 80.06,374.58 82.58,375.58 85.11,376.58 87.63,377.57 90.15,378.56 92.67,379.54 95.19,380.51 97.72,381.47 100.24,382.41 102.76,383.34 105.28,384.24 107.80,385.10 110.33,385.93 112.85,386.71 115.37,387.44 117.89,388.11 120.41,388.73 122.93,389.30 125.46,389.84 127.98,390.35 130.50,390.84 133.02,391.31 135.54,391.76 138.07,392.21 140.59,392.65 143.11,393.08 145.63,393.50 148.15,393.92 150.68,394.34 153.20,394.76 155.72,395.17 158.24,395.58 160.76,395.99 163.28,396.40 163.28,409.04 160.76,408.03 158.24,407.02 155.72,406.01 153.20,405.00 150.68,404.00 148.15,403.00 145.63,402.00 143.11,401.01 140.59,400.02 138.07,399.03 135.54,398.06 133.02,397.10 130.50,396.15 127.98,395.21 125.46,394.30 122.93,393.42 120.41,392.57 117.89,391.77 115.37,391.02 112.85,390.33 110.33,389.69 107.80,389.10 105.28,388.55 102.76,388.03 100.24,387.53 97.72,387.06 95.19,386.60 92.67,386.15 90.15,385.71 87.63,385.27 85.11,384.85 82.58,384.42 80.06,384.00 77.54,383.59 75.02,383.17 72.50,382.76 69.98,382.35 67.45,381.94 64.93,381.54 62.41,381.13" fill="#d2c9d8" fill-opacity="1.0" stroke="none"/>
<polyline points="62.41,367.51 64.93,368.53 67.45,369.54 69.98,370.55 72.50,371.56 75.02,372.57 77.54,373.58 80.06,374.58 82.58,375.58 85.11,376.58 87.63,377.57 90.15,378.56 92.67,379.54 95.19,380.51 97.72,381.47 100.24,382.41 102.76,383.34 105.28,384.24 107.80,385.10 110.33,385.93 112.85,386.71 115.37,387.44 117.89,388.11 120.41,388.73 122.93,389.30 125.46,389.84 127.98,390.35 130.50,390.84 133.02,391.31 135.54,391.76 138.07,392.21 140.59,392.65 143.11,393.08 145.63,393.50 148.15,393.92 150.68,394.34 153.20,394.76 155.72,395.17 158.24,395.58 160.76,395.99 163.28,396.40" fill="none" stroke="#4d3d66" stroke-width="1.05" stroke-dasharray="0.01 2.2" stroke-linecap="round"/>
<polyline points="62.41,381.13 64.93,381.54 67.45,381.94 69.98,382.35 72.50,382.76 75.02,383.17 77.54,383.59 80.06,384.00 82.58,384.42 85.11,384.85 87.63,385.27 90.15,385.71 92.67,386.15 95.19,386.60 97.72,387.06 100.24,387.53 102.76,388.03 105.28,388.55 107.80,389.10 110.33,389.69 112.85,390.33 115.37,391.02 117.89,391.77 120.41,392.57 122.93,393.42 125.46,394.30 127.98,395.21 130.50,396.15 133.02,397.10 135.54,398.06 138.07,399.03 140.59,400.02 143.11,401.01 145.63,402.00 148.15,403.00 150.68,404.00 153.20,405.00 155.72,406.01 158.24,407.02 160.76,408.03 163.28,409.04" fill="none" stroke="#4d3d66" stroke-width="1.05" stroke-dasharray="0.01 2.2" stroke-linecap="round"/>
<g fill="#2d1a4d" fill-opacity="0.72"><circle cx="62.41" cy="404.66" r="1.7"/><circle cx="66.44" cy="380.31" r="1.7"/><circle cx="66.44" cy="394.45" r="1.7"/><circle cx="74.51" cy="358.63" r="1.7"/><circle cx="74.51" cy="366.34" r="1.7"/><circle cx="74.51" cy="405.74" r="1.7"/><circle cx="78.55" cy="353.98" r="1.7"/><circle cx="78.55" cy="358.63" r="1.7"/><circle cx="78.55" cy="369.92" r="1.7"/><circle cx="82.58" cy="358.63" r="1.7"/><circle cx="82.58" cy="362.75" r="1.7"/><circle cx="82.58" cy="387.29" r="1.7"/><circle cx="86.62" cy="343.23" r="1.7"/><circle cx="86.62" cy="368.66" r="1.7"/><circle cx="86.62" cy="373.86" r="1.7"/><circle cx="86.62" cy="385.68" r="1.7"/><circle cx="86.62" cy="387.29" r="1.7"/><circle cx="86.62" cy="389.26" r="1.7"/><circle cx="86.62" cy="391.23" r="1.7"/><circle cx="90.66" cy="362.22" r="1.7"/><circle cx="90.66" cy="367.59" r="1.7"/><circle cx="90.66" cy="381.02" r="1.7"/><circle cx="90.66" cy="388.54" r="1.7"/><circle cx="94.69" cy="359.53" r="1.7"/><circle cx="94.69" cy="362.75" r="1.7"/><circle cx="94.69" cy="362.75" r="1.7"/><circle cx="94.69" cy="372.78" r="1.7"/><circle cx="94.69" cy="377.80" r="1.7"/><circle cx="94.69" cy="379.77" r="1.7"/><circle cx="94.69" cy="386.04" r="1.7"/><circle cx="94.69" cy="393.56" r="1.7"/><circle cx="94.69" cy="395.17" r="1.7"/><circle cx="94.69" cy="397.14" r="1.7"/><circle cx="94.69" cy="398.75" r="1.7"/><circle cx="94.69" cy="411.47" r="1.7"/><circle cx="98.72" cy="362.22" r="1.7"/><circle cx="98.72" cy="373.68" r="1.7"/><circle cx="98.72" cy="380.31" r="1.7"/><circle cx="98.72" cy="386.57" r="1.7"/><circle cx="98.72" cy="392.13" r="1.7"/><circle cx="98.72" cy="397.50" r="1.7"/><circle cx="98.72" cy="399.47" r="1.7"/><circle cx="98.72" cy="403.05" r="1.7"/><circle cx="102.76" cy="378.34" r="1.7"/><circle cx="102.76" cy="397.14" r="1.7"/><circle cx="102.76" cy="404.66" r="1.7"/><circle cx="106.79" cy="351.47" r="1.7"/><circle cx="106.79" cy="356.31" r="1.7"/><circle cx="106.79" cy="363.83" r="1.7"/><circle cx="106.79" cy="373.68" r="1.7"/><circle cx="106.79" cy="376.37" r="1.7"/><circle cx="106.79" cy="381.74" r="1.7"/><circle cx="106.79" cy="383.71" r="1.7"/><circle cx="106.79" cy="385.68" r="1.7"/><circle cx="106.79" cy="387.65" r="1.7"/><circle cx="106.79" cy="389.62" r="1.7"/><circle cx="106.79" cy="392.13" r="1.7"/><circle cx="106.79" cy="394.10" r="1.7"/><circle cx="106.79" cy="398.04" r="1.7"/><circle cx="106.79" cy="400.01" r="1.7"/><circle cx="106.79" cy="401.98" r="1.7"/><circle cx="106.79" cy="403.95" r="1.7"/><circle cx="106.79" cy="405.92" r="1.7"/><circle cx="110.83" cy="347.17" r="1.7"/><circle cx="110.83" cy="365.80" r="1.7"/><circle cx="110.83" cy="377.80" r="1.7"/><circle cx="110.83" cy="380.31" r="1.7"/><circle cx="110.83" cy="382.63" r="1.7"/><circle cx="110.83" cy="384.60" r="1.7"/><circle cx="110.83" cy="386.57" r="1.7"/><circle cx="110.83" cy="390.51" r="1.7"/><circle cx="110.83" cy="392.84" r="1.7"/><circle cx="110.83" cy="394.81" r="1.7"/><circle cx="110.83" cy="396.78" r="1.7"/><circle cx="110.83" cy="403.41" r="1.7"/><circle cx="114.86" cy="384.60" r="1.7"/><circle cx="114.86" cy="389.26" r="1.7"/><circle cx="114.86" cy="393.56" r="1.7"/><circle cx="114.86" cy="399.11" r="1.7"/><circle cx="114.86" cy="400.72" r="1.7"/><circle cx="114.86" cy="403.95" r="1.7"/><circle cx="114.86" cy="406.99" r="1.7"/><circle cx="114.86" cy="410.93" r="1.7"/><circle cx="118.90" cy="357.38" r="1.7"/><circle cx="118.90" cy="359.71" r="1.7"/><circle cx="118.90" cy="366.34" r="1.7"/><circle cx="118.90" cy="378.69" r="1.7"/><circle cx="118.90" cy="383.35" r="1.7"/><circle cx="118.90" cy="385.32" r="1.7"/><circle cx="118.90" cy="393.20" r="1.7"/><circle cx="118.90" cy="398.04" r="1.7"/><circle cx="118.90" cy="400.01" r="1.7"/><circle cx="118.90" cy="403.95" r="1.7"/><circle cx="118.90" cy="406.28" r="1.7"/><circle cx="122.93" cy="346.10" r="1.7"/><circle cx="122.93" cy="367.05" r="1.7"/><circle cx="122.93" cy="369.56" r="1.7"/><circle cx="122.93" cy="373.32" r="1.7"/><circle cx="122.93" cy="373.32" r="1.7"/><circle cx="122.93" cy="375.47" r="1.7"/><circle cx="122.93" cy="377.80" r="1.7"/><circle cx="122.93" cy="380.31" r="1.7"/><circle cx="122.93" cy="386.93" r="1.7"/><circle cx="122.93" cy="388.90" r="1.7"/><circle cx="122.93" cy="390.87" r="1.7"/><circle cx="122.93" cy="392.84" r="1.7"/><circle cx="122.93" cy="394.81" r="1.7"/><circle cx="122.93" cy="403.05" r="1.7"/><circle cx="122.93" cy="406.99" r="1.7"/><circle cx="122.93" cy="416.48" r="1.7"/><circle cx="126.97" cy="366.16" r="1.7"/><circle cx="126.97" cy="373.32" r="1.7"/><circle cx="126.97" cy="377.80" r="1.7"/><circle cx="126.97" cy="389.26" r="1.7"/><circle cx="126.97" cy="396.78" r="1.7"/><circle cx="126.97" cy="398.39" r="1.7"/><circle cx="126.97" cy="400.01" r="1.7"/><circle cx="126.97" cy="401.44" r="1.7"/><circle cx="126.97" cy="404.66" r="1.7"/><circle cx="131.00" cy="362.22" r="1.7"/><circle cx="131.00" cy="367.59" r="1.7"/><circle cx="131.00" cy="380.31" r="1.7"/><circle cx="131.00" cy="384.60" r="1.7"/><circle cx="131.00" cy="388.19" r="1.7"/><circle cx="131.00" cy="390.51" r="1.7"/><circle cx="131.00" cy="392.48" r="1.7"/><circle cx="131.00" cy="396.78" r="1.7"/><circle cx="131.00" cy="400.01" r="1.7"/><circle cx="131.00" cy="402.33" r="1.7"/><circle cx="131.00" cy="404.66" r="1.7"/><circle cx="131.00" cy="408.96" r="1.7"/><circle cx="131.00" cy="412.54" r="1.7"/><circle cx="135.04" cy="395.35" r="1.7"/><circle cx="135.04" cy="401.62" r="1.7"/><circle cx="135.04" cy="406.45" r="1.7"/><circle cx="135.04" cy="412.01" r="1.7"/><circle cx="139.07" cy="353.44" r="1.7"/><circle cx="139.07" cy="403.41" r="1.7"/><circle cx="139.07" cy="408.96" r="1.7"/><circle cx="143.11" cy="386.22" r="1.7"/><circle cx="143.11" cy="388.37" r="1.7"/><circle cx="143.11" cy="393.02" r="1.7"/><circle cx="143.11" cy="397.32" r="1.7"/><circle cx="143.11" cy="409.50" r="1.7"/><circle cx="143.11" cy="411.65" r="1.7"/><circle cx="147.14" cy="396.07" r="1.7"/><circle cx="147.14" cy="397.86" r="1.7"/><circle cx="147.14" cy="397.86" r="1.7"/><circle cx="147.14" cy="402.16" r="1.7"/><circle cx="155.21" cy="405.20" r="1.7"/><circle cx="155.21" cy="405.20" r="1.7"/><circle cx="159.25" cy="373.32" r="1.7"/><circle cx="163.28" cy="399.65" r="1.7"/></g>
<line x1="62.41" y1="374.32" x2="163.28" y2="402.72" stroke="#4d3d68" stroke-width="0.9"/>
<line x1="38.20" y1="267.65" x2="38.20" y2="430.60" stroke="#000" stroke-width="1.7"/>
<line x1="33.50" y1="429.75" x2="38.20" y2="429.75" stroke="#000" stroke-width="1.5"/>
<text x="31.40" y="433.15" font-size="10" text-anchor="end" font-weight="bold" fill="#000">0</text>
<line x1="33.50" y1="376.00" x2="38.20" y2="376.00" stroke="#000" stroke-width="1.5"/>
<text x="31.40" y="379.40" font-size="10" text-anchor="end" font-weight="bold" fill="#000">30</text>
<line x1="33.50" y1="322.25" x2="38.20" y2="322.25" stroke="#000" stroke-width="1.5"/>
<text x="31.40" y="325.65" font-size="10" text-anchor="end" font-weight="bold" fill="#000">60</text>
<line x1="33.50" y1="268.50" x2="38.20" y2="268.50" stroke="#000" stroke-width="1.5"/>
<text x="31.40" y="271.90" font-size="10" text-anchor="end" font-weight="bold" fill="#000">90</text>
<line x1="37.35" y1="429.75" x2="200.45" y2="429.75" stroke="#000" stroke-width="1.7"/>
<line x1="38.20" y1="429.75" x2="38.20" y2="434.35" stroke="#000" stroke-width="1.5"/>
<text x="38.20" y="445.85" font-size="10" text-anchor="middle" font-weight="bold" fill="#000">0</text>
<line x1="78.55" y1="429.75" x2="78.55" y2="434.35" stroke="#000" stroke-width="1.5"/>
<text x="78.55" y="445.85" font-size="10" text-anchor="middle" font-weight="bold" fill="#000">10</text>
<line x1="118.90" y1="429.75" x2="118.90" y2="434.35" stroke="#000" stroke-width="1.5"/>
<text x="118.90" y="445.85" font-size="10" text-anchor="middle" font-weight="bold" fill="#000">20</text>
<line x1="159.25" y1="429.75" x2="159.25" y2="434.35" stroke="#000" stroke-width="1.5"/>
<text x="159.25" y="445.85" font-size="10" text-anchor="middle" font-weight="bold" fill="#000">30</text>
<line x1="199.60" y1="429.75" x2="199.60" y2="434.35" stroke="#000" stroke-width="1.5"/>
<text x="199.60" y="445.85" font-size="10" text-anchor="middle" font-weight="bold" fill="#000">40</text>
<text x="118.90" y="462.75" font-size="10" text-anchor="middle" font-weight="bold" fill="#000">UPSIT</text>
<text transform="translate(14.90,350.23) rotate(-90)" x="0" y="0" font-size="10" text-anchor="middle" font-weight="bold" fill="#000">VADAS-Cog</text>
<text x="0" y="0" transform="translate(116.50,280.10) scale(1.075,0.94)" font-size="8" font-weight="bold" font-style="italic" fill="#000">Y = -0.634*X + 34.74</text>
<text x="0" y="0" transform="translate(116.50,288.70) scale(1.075,0.94)" font-size="8" font-weight="bold" font-style="italic" fill="#000">R<tspan font-size="4.96" dy="-3">2</tspan><tspan dy="3"> = 0.109</tspan></text>
<text x="0" y="0" transform="translate(116.50,297.30) scale(1.075,0.94)" font-size="8" font-weight="bold" font-style="italic" fill="#000">P &lt; 0.001***</text>
<polygon points="94.00,597.21 95.73,596.96 97.45,596.69 99.18,596.42 100.90,596.13 102.63,595.83 104.35,595.51 106.08,595.18 107.80,594.82 109.52,594.45 111.25,594.06 112.97,593.64 114.70,593.19 116.42,592.71 118.15,592.21 119.87,591.67 121.60,591.10 123.32,590.49 125.04,589.85 126.77,589.18 128.49,588.47 130.22,587.74 131.94,586.97 133.67,586.18 135.39,585.37 137.12,584.53 138.84,583.67 140.56,582.79 142.29,581.90 144.01,580.99 145.74,580.07 147.46,579.13 149.19,578.19 150.91,577.23 152.64,576.27 154.36,575.30 156.08,574.32 157.81,573.34 159.53,572.35 161.26,571.36 162.98,570.36 162.98,595.13 161.26,595.34 159.53,595.56 157.81,595.78 156.08,596.00 154.36,596.24 152.64,596.47 150.91,596.72 149.19,596.98 147.46,597.24 145.74,597.52 144.01,597.80 142.29,598.11 140.56,598.42 138.84,598.75 137.12,599.10 135.39,599.48 133.67,599.87 131.94,600.29 130.22,600.73 128.49,601.21 126.77,601.71 125.04,602.25 123.32,602.82 121.60,603.42 119.87,604.06 118.15,604.73 116.42,605.43 114.70,606.17 112.97,606.93 111.25,607.72 109.52,608.53 107.80,609.37 106.08,610.23 104.35,611.11 102.63,612.00 100.90,612.91 99.18,613.83 97.45,614.76 95.73,615.71 94.00,616.66" fill="#fbe0c8" fill-opacity="1.0" stroke="none"/>
<polyline points="94.00,597.21 95.73,596.96 97.45,596.69 99.18,596.42 100.90,596.13 102.63,595.83 104.35,595.51 106.08,595.18 107.80,594.82 109.52,594.45 111.25,594.06 112.97,593.64 114.70,593.19 116.42,592.71 118.15,592.21 119.87,591.67 121.60,591.10 123.32,590.49 125.04,589.85 126.77,589.18 128.49,588.47 130.22,587.74 131.94,586.97 133.67,586.18 135.39,585.37 137.12,584.53 138.84,583.67 140.56,582.79 142.29,581.90 144.01,580.99 145.74,580.07 147.46,579.13 149.19,578.19 150.91,577.23 152.64,576.27 154.36,575.30 156.08,574.32 157.81,573.34 159.53,572.35 161.26,571.36 162.98,570.36" fill="none" stroke="#d4844a" stroke-width="1.05" stroke-dasharray="0.01 2.2" stroke-linecap="round"/>
<polyline points="94.00,616.66 95.73,615.71 97.45,614.76 99.18,613.83 100.90,612.91 102.63,612.00 104.35,611.11 106.08,610.23 107.80,609.37 109.52,608.53 111.25,607.72 112.97,606.93 114.70,606.17 116.42,605.43 118.15,604.73 119.87,604.06 121.60,603.42 123.32,602.82 125.04,602.25 126.77,601.71 128.49,601.21 130.22,600.73 131.94,600.29 133.67,599.87 135.39,599.48 137.12,599.10 138.84,598.75 140.56,598.42 142.29,598.11 144.01,597.80 145.74,597.52 147.46,597.24 149.19,596.98 150.91,596.72 152.64,596.47 154.36,596.24 156.08,596.00 157.81,595.78 159.53,595.56 161.26,595.34 162.98,595.13" fill="none" stroke="#d4844a" stroke-width="1.05" stroke-dasharray="0.01 2.2" stroke-linecap="round"/>
<g fill="#c0661f" fill-opacity="0.68"><circle cx="106.18" cy="554.45" r="1.7"/><circle cx="110.23" cy="569.96" r="1.7"/><circle cx="130.52" cy="570.59" r="1.7"/><circle cx="142.69" cy="569.32" r="1.7"/><circle cx="142.69" cy="569.32" r="1.7"/><circle cx="146.75" cy="565.92" r="1.7"/><circle cx="146.75" cy="568.26" r="1.7"/><circle cx="162.98" cy="571.23" r="1.7"/><circle cx="158.93" cy="577.82" r="1.7"/><circle cx="118.35" cy="579.73" r="1.7"/><circle cx="94.00" cy="588.22" r="1.7"/><circle cx="106.18" cy="586.95" r="1.7"/><circle cx="106.18" cy="591.83" r="1.7"/><circle cx="102.12" cy="596.08" r="1.7"/><circle cx="114.29" cy="590.35" r="1.7"/><circle cx="118.35" cy="589.07" r="1.7"/><circle cx="118.35" cy="590.35" r="1.7"/><circle cx="122.41" cy="589.07" r="1.7"/><circle cx="126.47" cy="592.26" r="1.7"/><circle cx="130.52" cy="594.17" r="1.7"/><circle cx="118.35" cy="597.14" r="1.7"/><circle cx="98.06" cy="601.39" r="1.7"/><circle cx="110.23" cy="601.82" r="1.7"/><circle cx="122.41" cy="599.91" r="1.7"/><circle cx="130.52" cy="601.39" r="1.7"/><circle cx="130.52" cy="603.52" r="1.7"/><circle cx="134.58" cy="601.60" r="1.7"/><circle cx="118.35" cy="603.52" r="1.7"/><circle cx="118.35" cy="604.79" r="1.7"/><circle cx="154.87" cy="603.30" r="1.7"/><circle cx="102.12" cy="606.70" r="1.7"/><circle cx="110.23" cy="607.34" r="1.7"/><circle cx="110.23" cy="607.34" r="1.7"/><circle cx="114.29" cy="607.34" r="1.7"/><circle cx="122.41" cy="605.64" r="1.7"/><circle cx="122.41" cy="609.25" r="1.7"/><circle cx="126.47" cy="609.25" r="1.7"/><circle cx="130.52" cy="610.10" r="1.7"/><circle cx="142.69" cy="611.59" r="1.7"/><circle cx="98.06" cy="613.71" r="1.7"/><circle cx="122.41" cy="613.29" r="1.7"/><circle cx="122.41" cy="613.29" r="1.7"/><circle cx="110.23" cy="620.08" r="1.7"/><circle cx="122.41" cy="621.57" r="1.7"/><circle cx="106.18" cy="628.58" r="1.7"/><circle cx="114.29" cy="626.67" r="1.7"/></g>
<line x1="94.00" y1="606.94" x2="162.98" y2="582.74" stroke="#cf8040" stroke-width="0.9"/>
<line x1="37.20" y1="504.75" x2="37.20" y2="665.75" stroke="#000" stroke-width="1.7"/>
<line x1="32.50" y1="664.90" x2="37.20" y2="664.90" stroke="#000" stroke-width="1.5"/>
<text x="30.40" y="668.30" font-size="10" text-anchor="end" font-weight="bold" fill="#000">0</text>
<line x1="32.50" y1="633.04" x2="37.20" y2="633.04" stroke="#000" stroke-width="1.5"/>
<text x="30.40" y="636.44" font-size="10" text-anchor="end" font-weight="bold" fill="#000">15</text>
<line x1="32.50" y1="601.18" x2="37.20" y2="601.18" stroke="#000" stroke-width="1.5"/>
<text x="30.40" y="604.58" font-size="10" text-anchor="end" font-weight="bold" fill="#000">30</text>
<line x1="32.50" y1="569.32" x2="37.20" y2="569.32" stroke="#000" stroke-width="1.5"/>
<text x="30.40" y="572.72" font-size="10" text-anchor="end" font-weight="bold" fill="#000">45</text>
<line x1="32.50" y1="537.46" x2="37.20" y2="537.46" stroke="#000" stroke-width="1.5"/>
<text x="30.40" y="540.86" font-size="10" text-anchor="end" font-weight="bold" fill="#000">60</text>
<line x1="32.50" y1="505.60" x2="37.20" y2="505.60" stroke="#000" stroke-width="1.5"/>
<text x="30.40" y="509.00" font-size="10" text-anchor="end" font-weight="bold" fill="#000">75</text>
<line x1="36.35" y1="664.90" x2="200.35" y2="664.90" stroke="#000" stroke-width="1.7"/>
<line x1="37.20" y1="664.90" x2="37.20" y2="669.50" stroke="#000" stroke-width="1.5"/>
<text x="37.20" y="681.00" font-size="10" text-anchor="middle" font-weight="bold" fill="#000">0</text>
<line x1="77.78" y1="664.90" x2="77.78" y2="669.50" stroke="#000" stroke-width="1.5"/>
<text x="77.78" y="681.00" font-size="10" text-anchor="middle" font-weight="bold" fill="#000">10</text>
<line x1="118.35" y1="664.90" x2="118.35" y2="669.50" stroke="#000" stroke-width="1.5"/>
<text x="118.35" y="681.00" font-size="10" text-anchor="middle" font-weight="bold" fill="#000">20</text>
<line x1="158.93" y1="664.90" x2="158.93" y2="669.50" stroke="#000" stroke-width="1.5"/>
<text x="158.93" y="681.00" font-size="10" text-anchor="middle" font-weight="bold" fill="#000">30</text>
<line x1="199.50" y1="664.90" x2="199.50" y2="669.50" stroke="#000" stroke-width="1.5"/>
<text x="199.50" y="681.00" font-size="10" text-anchor="middle" font-weight="bold" fill="#000">40</text>
<text x="118.35" y="697.90" font-size="10" text-anchor="middle" font-weight="bold" fill="#000">UPSIT</text>
<text transform="translate(14.90,586.35) rotate(-90)" x="0" y="0" font-size="10" text-anchor="middle" font-weight="bold" fill="#000">AVLT</text>
<text x="0" y="0" transform="translate(123.00,641.80) scale(1.075,0.94)" font-size="8" font-weight="bold" font-style="italic" fill="#000">Y = 0.670*X + 17.91</text>
<text x="0" y="0" transform="translate(123.00,650.50) scale(1.075,0.94)" font-size="8" font-weight="bold" font-style="italic" fill="#000">R<tspan font-size="4.96" dy="-3">2</tspan><tspan dy="3"> = 0.107</tspan></text>
<text x="0" y="0" transform="translate(123.00,659.20) scale(1.075,0.94)" font-size="8" font-weight="bold" font-style="italic" fill="#000">P =0.022*</text>
<line x1="260.20" y1="246.70" x2="663.80" y2="246.70" stroke="#000" stroke-width="1.7"/>
<line x1="260.20" y1="260.30" x2="370.90" y2="260.30" stroke="#8c8c8c" stroke-width="1.0"/>
<line x1="372.30" y1="260.30" x2="543.50" y2="260.30" stroke="#8c8c8c" stroke-width="1.0"/>
<line x1="545.00" y1="260.30" x2="625.20" y2="260.30" stroke="#8c8c8c" stroke-width="1.0"/>
<line x1="627.20" y1="260.30" x2="663.10" y2="260.30" stroke="#8c8c8c" stroke-width="1.0"/>
<line x1="260.20" y1="469.50" x2="663.80" y2="469.50" stroke="#000" stroke-width="1.5"/>
<text x="458.60" y="255.90" font-size="8" text-anchor="middle" font-weight="bold" fill="#000">Forest Plot</text>
<text x="584.00" y="255.90" font-size="8" text-anchor="middle" font-weight="bold" fill="#000">β  (95% CI )</text>
<text x="645.30" y="255.90" font-size="8" text-anchor="middle" font-weight="bold" fill="#000">P value</text>
<line x1="482.40" y1="262.80" x2="482.40" y2="467.30" stroke="#111" stroke-width="0.8" stroke-dasharray="0.8 1.3"/>
<text x="316.00" y="274.80" font-size="8" text-anchor="middle" font-weight="bold" fill="#000">VADAS-Cog total score</text>
<text x="585.90" y="274.80" font-size="8" text-anchor="middle" font-weight="bold" fill="#000">-0.288(-0.357--0.219)</text>
<text x="645.00" y="274.80" font-size="8" text-anchor="middle" font-weight="bold" fill="#000">&lt;0.001</text>
<rect x="475.62" y="270.50" width="3.8" height="3.8" fill="#92601f"/>
<text x="316.00" y="288.24" font-size="8" text-anchor="middle" font-weight="bold" fill="#000">Word Recall</text>
<text x="585.90" y="288.24" font-size="8" text-anchor="middle" font-weight="bold" fill="#000">-1.617(-2.061--1.173)</text>
<text x="645.00" y="288.24" font-size="8" text-anchor="middle" font-weight="bold" fill="#000">&lt;0.001</text>
<line x1="447.47" y1="285.84" x2="462.52" y2="285.84" stroke="#a3743a" stroke-width="0.9"/>
<line x1="447.47" y1="284.24" x2="447.47" y2="287.44" stroke="#a3743a" stroke-width="0.9"/>
<line x1="462.52" y1="284.24" x2="462.52" y2="287.44" stroke="#a3743a" stroke-width="0.9"/>
<circle cx="454.99" cy="285.84" r="1.75" fill="#92601f"/>
<text x="316.00" y="301.68" font-size="8" text-anchor="middle" font-weight="bold" fill="#000">Commands</text>
<text x="585.90" y="301.68" font-size="8" text-anchor="middle" font-weight="bold" fill="#000">-2.218(-2.928--1.509)</text>
<text x="645.00" y="301.68" font-size="8" text-anchor="middle" font-weight="bold" fill="#000">&lt;0.001</text>
<line x1="432.77" y1="299.28" x2="456.82" y2="299.28" stroke="#a3743a" stroke-width="0.9"/>
<line x1="432.77" y1="297.68" x2="432.77" y2="300.88" stroke="#a3743a" stroke-width="0.9"/>
<line x1="456.82" y1="297.68" x2="456.82" y2="300.88" stroke="#a3743a" stroke-width="0.9"/>
<circle cx="444.80" cy="299.28" r="1.75" fill="#92601f"/>
<text x="316.00" y="315.12" font-size="8" text-anchor="middle" font-weight="bold" fill="#000">Constructional Praxis</text>
<text x="585.90" y="315.12" font-size="8" text-anchor="middle" font-weight="bold" fill="#000">-0.811(-1.702-0.080)</text>
<text x="645.00" y="315.12" font-size="8" text-anchor="middle" font-weight="bold" fill="#000">0.074</text>
<line x1="453.55" y1="312.72" x2="483.76" y2="312.72" stroke="#a3743a" stroke-width="0.9"/>
<line x1="453.55" y1="311.12" x2="453.55" y2="314.32" stroke="#a3743a" stroke-width="0.9"/>
<line x1="483.76" y1="311.12" x2="483.76" y2="314.32" stroke="#a3743a" stroke-width="0.9"/>
<circle cx="468.65" cy="312.72" r="1.75" fill="#92601f"/>
<text x="316.00" y="328.56" font-size="8" text-anchor="middle" font-weight="bold" fill="#000">Delayed Word-Recall</text>
<text x="585.90" y="328.56" font-size="8" text-anchor="middle" font-weight="bold" fill="#000">-0.693(-0.974--0.411)</text>
<text x="645.00" y="328.56" font-size="8" text-anchor="middle" font-weight="bold" fill="#000">&lt;0.001</text>
<line x1="465.89" y1="326.16" x2="475.43" y2="326.16" stroke="#a3743a" stroke-width="0.9"/>
<line x1="465.89" y1="324.56" x2="465.89" y2="327.76" stroke="#a3743a" stroke-width="0.9"/>
<line x1="475.43" y1="324.56" x2="475.43" y2="327.76" stroke="#a3743a" stroke-width="0.9"/>
<circle cx="470.65" cy="326.16" r="1.75" fill="#92601f"/>
<text x="316.00" y="342.00" font-size="8" text-anchor="middle" font-weight="bold" fill="#000">Naming Objects / Fingers</text>
<text x="585.90" y="342.00" font-size="8" text-anchor="middle" font-weight="bold" fill="#000">-1.075(-2.028--0.123)</text>
<text x="645.00" y="342.00" font-size="8" text-anchor="middle" font-weight="bold" fill="#000">0.027</text>
<line x1="448.03" y1="339.60" x2="480.32" y2="339.60" stroke="#a3743a" stroke-width="0.9"/>
<line x1="448.03" y1="338.00" x2="448.03" y2="341.20" stroke="#a3743a" stroke-width="0.9"/>
<line x1="480.32" y1="338.00" x2="480.32" y2="341.20" stroke="#a3743a" stroke-width="0.9"/>
<circle cx="464.18" cy="339.60" r="1.75" fill="#92601f"/>
<text x="316.00" y="355.44" font-size="8" text-anchor="middle" font-weight="bold" fill="#000">Ideational Praxis</text>
<text x="585.90" y="355.44" font-size="8" text-anchor="middle" font-weight="bold" fill="#000">-0.553(-1.164-0.058)</text>
<text x="645.00" y="355.44" font-size="8" text-anchor="middle" font-weight="bold" fill="#000">0.076</text>
<line x1="462.67" y1="353.04" x2="483.38" y2="353.04" stroke="#a3743a" stroke-width="0.9"/>
<line x1="462.67" y1="351.44" x2="462.67" y2="354.64" stroke="#a3743a" stroke-width="0.9"/>
<line x1="483.38" y1="351.44" x2="483.38" y2="354.64" stroke="#a3743a" stroke-width="0.9"/>
<circle cx="473.03" cy="353.04" r="1.75" fill="#92601f"/>
<text x="316.00" y="368.88" font-size="8" text-anchor="middle" font-weight="bold" fill="#000">Orientation</text>
<text x="585.90" y="368.88" font-size="8" text-anchor="middle" font-weight="bold" fill="#000">-1.370(-1.875--0.865)</text>
<text x="645.00" y="368.88" font-size="8" text-anchor="middle" font-weight="bold" fill="#000">&lt;0.001</text>
<line x1="450.62" y1="366.48" x2="467.74" y2="366.48" stroke="#a3743a" stroke-width="0.9"/>
<line x1="450.62" y1="364.88" x2="450.62" y2="368.08" stroke="#a3743a" stroke-width="0.9"/>
<line x1="467.74" y1="364.88" x2="467.74" y2="368.08" stroke="#a3743a" stroke-width="0.9"/>
<circle cx="459.18" cy="366.48" r="1.75" fill="#92601f"/>
<text x="316.00" y="382.32" font-size="8" text-anchor="middle" font-weight="bold" fill="#000">Word Recognition</text>
<text x="585.90" y="382.32" font-size="8" text-anchor="middle" font-weight="bold" fill="#000">-0.302(-0.553--0.052)</text>
<text x="645.00" y="382.32" font-size="8" text-anchor="middle" font-weight="bold" fill="#000">0.018</text>
<line x1="473.03" y1="379.92" x2="481.52" y2="379.92" stroke="#a3743a" stroke-width="0.9"/>
<line x1="473.03" y1="378.32" x2="473.03" y2="381.52" stroke="#a3743a" stroke-width="0.9"/>
<line x1="481.52" y1="378.32" x2="481.52" y2="381.52" stroke="#a3743a" stroke-width="0.9"/>
<circle cx="477.28" cy="379.92" r="1.75" fill="#92601f"/>
<text x="316.00" y="395.76" font-size="8" text-anchor="middle" font-weight="bold" fill="#000">Comprehension</text>
<text x="585.90" y="395.76" font-size="8" text-anchor="middle" font-weight="bold" fill="#000">-2.361(-3.404--1.318)</text>
<text x="645.00" y="395.76" font-size="8" text-anchor="middle" font-weight="bold" fill="#000">&lt;0.001</text>
<line x1="424.70" y1="393.36" x2="460.06" y2="393.36" stroke="#a3743a" stroke-width="0.9"/>
<line x1="424.70" y1="391.76" x2="424.70" y2="394.96" stroke="#a3743a" stroke-width="0.9"/>
<line x1="460.06" y1="391.76" x2="460.06" y2="394.96" stroke="#a3743a" stroke-width="0.9"/>
<circle cx="442.38" cy="393.36" r="1.75" fill="#92601f"/>
<text x="316.00" y="409.20" font-size="8" text-anchor="middle" font-weight="bold" fill="#000">Word Finding Difficulty</text>
<text x="585.90" y="409.20" font-size="8" text-anchor="middle" font-weight="bold" fill="#000">-3.076(-4.617--1.535)</text>
<text x="645.00" y="409.20" font-size="8" text-anchor="middle" font-weight="bold" fill="#000">&lt;0.001</text>
<line x1="404.14" y1="406.80" x2="456.38" y2="406.80" stroke="#a3743a" stroke-width="0.9"/>
<line x1="404.14" y1="405.20" x2="404.14" y2="408.40" stroke="#a3743a" stroke-width="0.9"/>
<line x1="456.38" y1="405.20" x2="456.38" y2="408.40" stroke="#a3743a" stroke-width="0.9"/>
<circle cx="430.26" cy="406.80" r="1.75" fill="#92601f"/>
<text x="316.00" y="422.64" font-size="8" text-anchor="middle" font-weight="bold" fill="#000">Spoken Language Ability</text>
<text x="585.90" y="422.64" font-size="8" text-anchor="middle" font-weight="bold" fill="#000">-2.061(-5.775-1.653)</text>
<text x="645.00" y="422.64" font-size="8" text-anchor="middle" font-weight="bold" fill="#000">0.275</text>
<line x1="384.51" y1="420.24" x2="510.42" y2="420.24" stroke="#a3743a" stroke-width="0.9"/>
<line x1="384.51" y1="418.64" x2="384.51" y2="421.84" stroke="#a3743a" stroke-width="0.9"/>
<line x1="510.42" y1="418.64" x2="510.42" y2="421.84" stroke="#a3743a" stroke-width="0.9"/>
<circle cx="447.47" cy="420.24" r="1.75" fill="#92601f"/>
<text x="316.00" y="436.08" font-size="8" text-anchor="middle" font-weight="bold" fill="#000">Remembering Test Instructions</text>
<text x="585.90" y="436.08" font-size="8" text-anchor="middle" font-weight="bold" fill="#000">-2.058(-5.810-1.694)</text>
<text x="645.00" y="436.08" font-size="8" text-anchor="middle" font-weight="bold" fill="#000">0.281</text>
<line x1="383.92" y1="433.68" x2="511.11" y2="433.68" stroke="#a3743a" stroke-width="0.9"/>
<line x1="383.92" y1="432.08" x2="383.92" y2="435.28" stroke="#a3743a" stroke-width="0.9"/>
<line x1="511.11" y1="432.08" x2="511.11" y2="435.28" stroke="#a3743a" stroke-width="0.9"/>
<circle cx="447.52" cy="433.68" r="1.75" fill="#92601f"/>
<text x="316.00" y="449.52" font-size="8" text-anchor="middle" font-weight="bold" fill="#000">Maze Task</text>
<text x="585.90" y="449.52" font-size="8" text-anchor="middle" font-weight="bold" fill="#000">-0.965(-1.370--0.559)</text>
<text x="645.00" y="449.52" font-size="8" text-anchor="middle" font-weight="bold" fill="#000">&lt;0.001</text>
<line x1="459.18" y1="447.12" x2="472.92" y2="447.12" stroke="#a3743a" stroke-width="0.9"/>
<line x1="459.18" y1="445.52" x2="459.18" y2="448.72" stroke="#a3743a" stroke-width="0.9"/>
<line x1="472.92" y1="445.52" x2="472.92" y2="448.72" stroke="#a3743a" stroke-width="0.9"/>
<circle cx="466.04" cy="447.12" r="1.75" fill="#92601f"/>
<text x="316.00" y="462.96" font-size="8" text-anchor="middle" font-weight="bold" fill="#000">Digit Cancellation Test</text>
<text x="585.90" y="462.96" font-size="8" text-anchor="middle" font-weight="bold" fill="#000">-1.285(-1.760--0.810)</text>
<text x="645.00" y="462.96" font-size="8" text-anchor="middle" font-weight="bold" fill="#000">&lt;0.001</text>
<line x1="452.57" y1="460.56" x2="468.67" y2="460.56" stroke="#a3743a" stroke-width="0.9"/>
<line x1="452.57" y1="458.96" x2="452.57" y2="462.16" stroke="#a3743a" stroke-width="0.9"/>
<line x1="468.67" y1="458.96" x2="468.67" y2="462.16" stroke="#a3743a" stroke-width="0.9"/>
<circle cx="460.62" cy="460.56" r="1.75" fill="#92601f"/>
<line x1="380.70" y1="469.50" x2="380.70" y2="474.50" stroke="#000" stroke-width="1.0"/>
<text x="380.70" y="483.60" font-size="7" text-anchor="middle" font-weight="bold" fill="#000">-6</text>
<line x1="414.60" y1="469.50" x2="414.60" y2="474.50" stroke="#000" stroke-width="1.0"/>
<text x="414.60" y="483.60" font-size="7" text-anchor="middle" font-weight="bold" fill="#000">-4</text>
<line x1="448.50" y1="469.50" x2="448.50" y2="474.50" stroke="#000" stroke-width="1.0"/>
<text x="448.50" y="483.60" font-size="7" text-anchor="middle" font-weight="bold" fill="#000">-2</text>
<line x1="482.40" y1="469.50" x2="482.40" y2="474.50" stroke="#000" stroke-width="1.0"/>
<text x="482.40" y="483.60" font-size="7" text-anchor="middle" font-weight="bold" fill="#000">0</text>
<line x1="516.30" y1="469.50" x2="516.30" y2="474.50" stroke="#000" stroke-width="1.0"/>
<text x="516.30" y="483.60" font-size="7" text-anchor="middle" font-weight="bold" fill="#000">2</text>
<line x1="262.00" y1="536.80" x2="662.00" y2="536.80" stroke="#000" stroke-width="1.7"/>
<line x1="263.00" y1="554.30" x2="406.90" y2="554.30" stroke="#8c8c8c" stroke-width="1.0"/>
<line x1="408.30" y1="554.30" x2="522.70" y2="554.30" stroke="#8c8c8c" stroke-width="1.0"/>
<line x1="524.80" y1="554.30" x2="603.80" y2="554.30" stroke="#8c8c8c" stroke-width="1.0"/>
<line x1="606.70" y1="554.30" x2="662.00" y2="554.30" stroke="#8c8c8c" stroke-width="1.0"/>
<line x1="262.00" y1="660.20" x2="662.00" y2="660.20" stroke="#000" stroke-width="1.5"/>
<text x="466.60" y="547.90" font-size="8" text-anchor="middle" font-weight="bold" fill="#000">Forest Plot</text>
<text x="563.00" y="547.90" font-size="8" text-anchor="middle" font-weight="bold" fill="#000">β  (95% CI )</text>
<text x="633.80" y="547.90" font-size="8" text-anchor="middle" font-weight="bold" fill="#000">P value</text>
<line x1="435.40" y1="556.80" x2="435.40" y2="658.00" stroke="#111" stroke-width="0.8" stroke-dasharray="0.8 1.3"/>
<text x="335.30" y="568.70" font-size="7.8" text-anchor="middle" font-weight="bold" fill="#000">AVLT-total score</text>
<text x="565.10" y="568.70" font-size="8" text-anchor="middle" font-weight="bold" fill="#000">0.163(0.023-0.304)</text>
<text x="633.00" y="568.70" font-size="8" text-anchor="middle" font-weight="bold" fill="#000">0.024</text>
<line x1="436.32" y1="566.30" x2="447.62" y2="566.30" stroke="#2b5f74" stroke-width="0.9"/>
<line x1="436.32" y1="564.70" x2="436.32" y2="567.90" stroke="#2b5f74" stroke-width="0.9"/>
<line x1="447.62" y1="564.70" x2="447.62" y2="567.90" stroke="#2b5f74" stroke-width="0.9"/>
<circle cx="441.95" cy="566.30" r="1.75" fill="#1a4c60"/>
<text x="335.30" y="585.40" font-size="7.8" text-anchor="middle" font-weight="bold" fill="#000">AVLT-total score of immediate recall</text>
<text x="565.10" y="585.40" font-size="8" text-anchor="middle" font-weight="bold" fill="#000">1.013(0.157-1.870)</text>
<text x="633.00" y="585.40" font-size="8" text-anchor="middle" font-weight="bold" fill="#000">0.022</text>
<line x1="441.71" y1="583.00" x2="510.57" y2="583.00" stroke="#2b5f74" stroke-width="0.9"/>
<line x1="441.71" y1="581.40" x2="441.71" y2="584.60" stroke="#2b5f74" stroke-width="0.9"/>
<line x1="510.57" y1="581.40" x2="510.57" y2="584.60" stroke="#2b5f74" stroke-width="0.9"/>
<circle cx="476.12" cy="583.00" r="1.75" fill="#1a4c60"/>
<text x="335.30" y="602.10" font-size="7.8" text-anchor="middle" font-weight="bold" fill="#000">AVLT-short-term delay recall</text>
<text x="565.10" y="602.10" font-size="8" text-anchor="middle" font-weight="bold" fill="#000">0.774(0.148-1.399)</text>
<text x="633.00" y="602.10" font-size="8" text-anchor="middle" font-weight="bold" fill="#000">0.017</text>
<line x1="441.35" y1="599.70" x2="491.64" y2="599.70" stroke="#2b5f74" stroke-width="0.9"/>
<line x1="441.35" y1="598.10" x2="441.35" y2="601.30" stroke="#2b5f74" stroke-width="0.9"/>
<line x1="491.64" y1="598.10" x2="491.64" y2="601.30" stroke="#2b5f74" stroke-width="0.9"/>
<circle cx="466.51" cy="599.70" r="1.75" fill="#1a4c60"/>
<text x="335.30" y="618.80" font-size="7.8" text-anchor="middle" font-weight="bold" fill="#000">AVLT-long-term delay recall</text>
<text x="565.10" y="618.80" font-size="8" text-anchor="middle" font-weight="bold" fill="#000">0.801(0.159-1.442)</text>
<text x="633.00" y="618.80" font-size="8" text-anchor="middle" font-weight="bold" fill="#000">0.016</text>
<line x1="441.79" y1="616.40" x2="493.37" y2="616.40" stroke="#2b5f74" stroke-width="0.9"/>
<line x1="441.79" y1="614.80" x2="441.79" y2="618.00" stroke="#2b5f74" stroke-width="0.9"/>
<line x1="493.37" y1="614.80" x2="493.37" y2="618.00" stroke="#2b5f74" stroke-width="0.9"/>
<circle cx="467.60" cy="616.40" r="1.75" fill="#1a4c60"/>
<text x="335.30" y="635.50" font-size="7.8" text-anchor="middle" font-weight="bold" fill="#000">AVLT-long delay cued recall</text>
<text x="565.10" y="635.50" font-size="8" text-anchor="middle" font-weight="bold" fill="#000">-0.137(-0.533-0.260)</text>
<text x="633.00" y="635.50" font-size="8" text-anchor="middle" font-weight="bold" fill="#000">0.491</text>
<line x1="413.97" y1="633.10" x2="445.85" y2="633.10" stroke="#2b5f74" stroke-width="0.9"/>
<line x1="413.97" y1="631.50" x2="413.97" y2="634.70" stroke="#2b5f74" stroke-width="0.9"/>
<line x1="445.85" y1="631.50" x2="445.85" y2="634.70" stroke="#2b5f74" stroke-width="0.9"/>
<circle cx="429.89" cy="633.10" r="1.75" fill="#1a4c60"/>
<text x="335.30" y="652.20" font-size="7.8" text-anchor="middle" font-weight="bold" fill="#000">AVLT-recognition</text>
<text x="565.10" y="652.20" font-size="8" text-anchor="middle" font-weight="bold" fill="#000">0.395(0.083-0.706)</text>
<text x="633.00" y="652.20" font-size="8" text-anchor="middle" font-weight="bold" fill="#000">0.014</text>
<line x1="438.74" y1="649.80" x2="463.78" y2="649.80" stroke="#2b5f74" stroke-width="0.9"/>
<line x1="438.74" y1="648.20" x2="438.74" y2="651.40" stroke="#2b5f74" stroke-width="0.9"/>
<line x1="463.78" y1="648.20" x2="463.78" y2="651.40" stroke="#2b5f74" stroke-width="0.9"/>
<circle cx="451.28" cy="649.80" r="1.75" fill="#1a4c60"/>
<line x1="415.30" y1="660.20" x2="415.30" y2="665.20" stroke="#000" stroke-width="1.0"/>
<text x="415.30" y="674.40" font-size="7" text-anchor="middle" font-weight="bold" fill="#000">-0.5</text>
<line x1="435.40" y1="660.20" x2="435.40" y2="665.20" stroke="#000" stroke-width="1.0"/>
<text x="435.40" y="674.40" font-size="7" text-anchor="middle" font-weight="bold" fill="#000">0.0</text>
<line x1="455.50" y1="660.20" x2="455.50" y2="665.20" stroke="#000" stroke-width="1.0"/>
<text x="455.50" y="674.40" font-size="7" text-anchor="middle" font-weight="bold" fill="#000">0.5</text>
<line x1="475.60" y1="660.20" x2="475.60" y2="665.20" stroke="#000" stroke-width="1.0"/>
<text x="475.60" y="674.40" font-size="7" text-anchor="middle" font-weight="bold" fill="#000">1.0</text>
<line x1="495.70" y1="660.20" x2="495.70" y2="665.20" stroke="#000" stroke-width="1.0"/>
<text x="495.70" y="674.40" font-size="7" text-anchor="middle" font-weight="bold" fill="#000">1.5</text>
<line x1="515.80" y1="660.20" x2="515.80" y2="665.20" stroke="#000" stroke-width="1.0"/>
<text x="515.80" y="674.40" font-size="7" text-anchor="middle" font-weight="bold" fill="#000">2.0</text>
</svg>
</body></html>
